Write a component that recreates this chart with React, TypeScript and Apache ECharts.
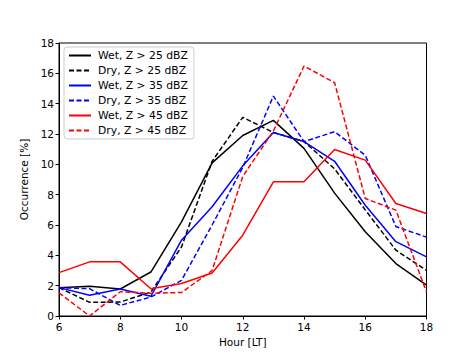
import React, { useEffect, useRef } from "react";
import * as echarts from "echarts";

const hours = [6, 7, 8, 9, 10, 11, 12, 13, 14, 15, 16, 17, 18];
const wet25 = [1.87, 1.96, 1.78, 2.9, 6.2, 10.1, 11.9, 12.9, 11.05, 8.1, 5.55, 3.46, 2.03];
const dry25 = [1.87, 0.9, 0.92, 1.58, 4.55, 10.2, 13.1, 12.1, 11.5, 9.7, 7.0, 4.34, 3.0];
const wet35 = [1.87, 1.37, 1.78, 1.3, 5.0, 7.2, 9.9, 12.1, 11.5, 10.2, 7.3, 4.9, 3.9];
const dry35 = [1.87, 1.8, 0.7, 1.25, 2.35, 6.0, 9.8, 14.5, 11.5, 12.15, 10.6, 5.9, 5.2];
const wet45 = [2.86, 3.57, 3.57, 1.8, 2.14, 2.84, 5.33, 8.85, 8.85, 10.98, 10.28, 7.42, 6.76];
const dry45 = [1.52, 0.0, 1.6, 1.5, 1.55, 3.0, 9.2, 12.2, 16.48, 15.38, 7.75, 6.98, 1.58];

const seriesNames = [
  "Wet, Z > 25 dBZ",
  "Dry, Z > 25 dBZ",
  "Wet, Z > 35 dBZ",
  "Dry, Z > 35 dBZ",
  "Wet, Z > 45 dBZ",
  "Dry, Z > 45 dBZ",
];
const seriesValues = [wet25, dry25, wet35, dry35, wet45, dry45];
const seriesColors = ["#000000", "#000000", "#0000ff", "#0000ff", "#ff0000", "#ff0000"];
const seriesDashed = [false, true, false, true, false, true];

const FONT = "DejaVu Sans";

export default function App() {
  const ref = useRef<HTMLDivElement>(null);
  useEffect(() => {
    if (!ref.current) return;
    const chart = echarts.init(ref.current, undefined, { renderer: "svg" });
    chart.setOption({
      animation: false,
      backgroundColor: "#ffffff",
      textStyle: { fontFamily: FONT },
      grid: {
        left: 59,
        right: 47.5,
        top: 43,
        bottom: 39,
        show: true,
        borderColor: "#000",
        borderWidth: 1,
        backgroundColor: "transparent",
      },
      legend: {
        orient: "vertical",
        left: 64,
        top: 47,
        padding: [3, 6, 3, 4],
        itemWidth: 22,
        itemHeight: 13,
        itemGap: 4,
        backgroundColor: "rgba(255,255,255,0.8)",
        borderColor: "#cccccc",
        borderWidth: 1,
        borderRadius: 3,
        itemStyle: { opacity: 0, borderWidth: 0 },
        textStyle: { fontFamily: FONT, fontSize: 10.8, color: "#000", padding: [0, 0, 0, 2] },
        data: seriesNames,
      },
      xAxis: {
        type: "value",
        min: 6,
        max: 18,
        interval: 2,
        name: "Hour [LT]",
        nameLocation: "middle",
        nameGap: 19,
        nameTextStyle: { fontFamily: FONT, fontSize: 10.5, color: "#000" },
        axisLine: { show: true, lineStyle: { color: "#000", width: 1 } },
        axisTick: { show: true, length: 3.5, lineStyle: { color: "#000" } },
        axisLabel: { fontFamily: FONT, fontSize: 10.5, color: "#000", margin: 5 },
        splitLine: { show: false },
      },
      yAxis: {
        type: "value",
        min: 0,
        max: 18,
        interval: 2,
        name: "Occurrence [%]",
        nameLocation: "middle",
        nameGap: 25,
        nameTextStyle: { fontFamily: FONT, fontSize: 10.5, color: "#000" },
        axisLine: { show: true, lineStyle: { color: "#000", width: 1 } },
        axisTick: { show: true, length: 3.5, lineStyle: { color: "#000" } },
        axisLabel: { fontFamily: FONT, fontSize: 10.5, color: "#000", margin: 5 },
        splitLine: { show: false },
      },
      series: seriesNames.map((name, i) => ({
        name,
        type: "line",
        symbol: "none",
        showSymbol: false,
        data: hours.map((h, j) => [h, seriesValues[i][j]]),
        lineStyle: {
          color: seriesColors[i],
          width: 1.5,
          type: seriesDashed[i] ? [5, 2.5] : "solid",
        },
        itemStyle: { color: seriesColors[i] },
      })),
    });
    return () => chart.dispose();
  }, []);
  return (
    <div
      ref={ref}
      style={{ position: "absolute", left: 0, top: 0, width: 474, height: 355 }}
    />
  );
}
